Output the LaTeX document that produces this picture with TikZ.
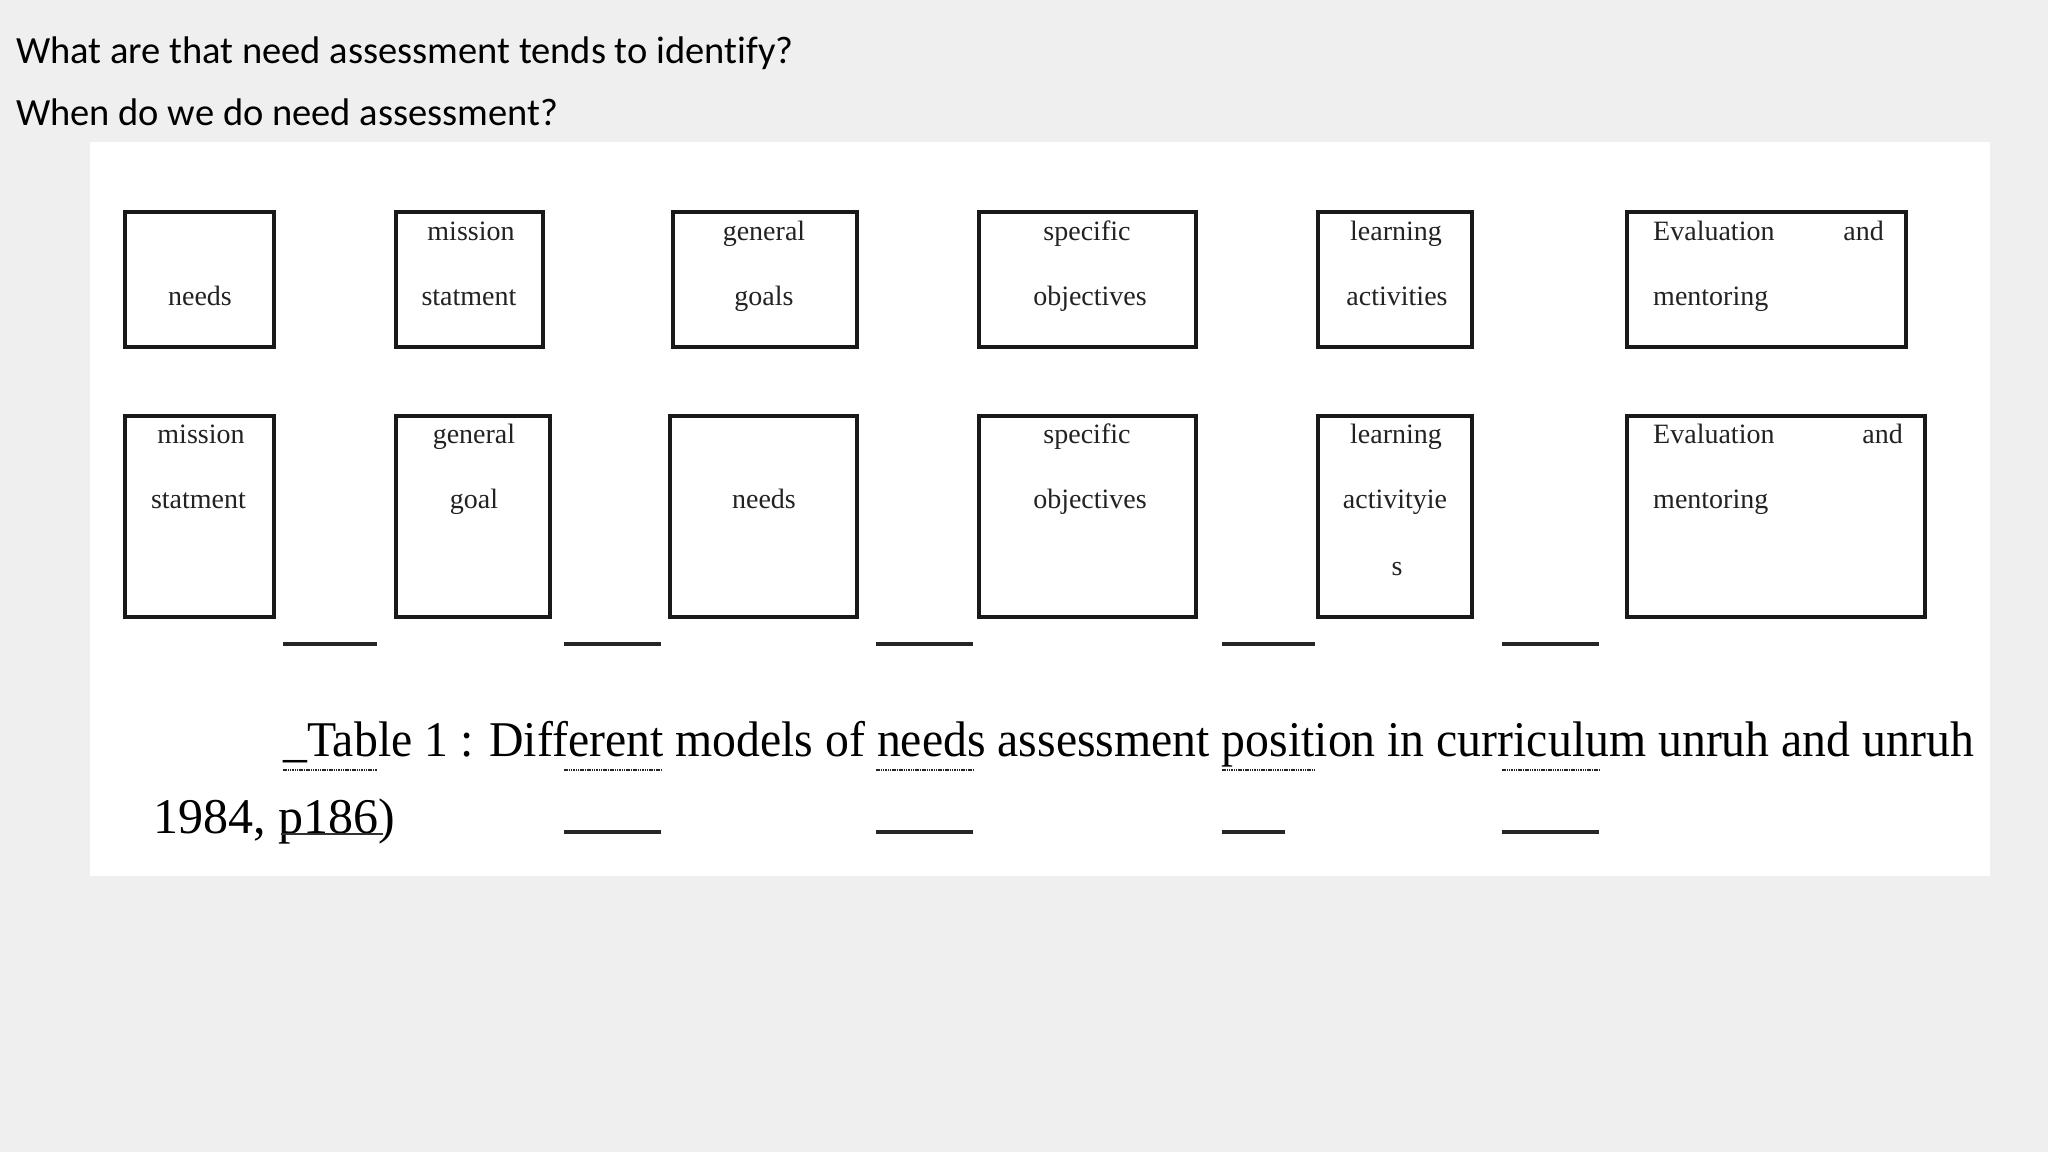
\documentclass[tikz,border=0pt]{standalone}
\usepackage{fontspec}
\setmainfont{Liberation Serif}
\newfontfamily\headfont[Ligatures=NoCommon]{Carlito}
\definecolor{pagebg}{HTML}{EFEFEF}
\definecolor{boxtext}{HTML}{222222}
\begin{document}
\begin{tikzpicture}[x=1pt,y=-1pt,
  bx/.style={draw=black!90, line width=3.2pt, rectangle, inner sep=0pt, fill=white},
  lbl/.style={anchor=base, inner sep=0pt, text=boxtext, font=\fontsize{28pt}{28pt}\selectfont},
  lbll/.style={anchor=base west, inner sep=0pt, text=boxtext, font=\fontsize{28pt}{28pt}\selectfont},
  lblr/.style={anchor=base east, inner sep=0pt, text=boxtext, font=\fontsize{28pt}{28pt}\selectfont},
  head/.style={anchor=base west, inner sep=0pt, font=\headfont\fontsize{38.5pt}{38.5pt}\selectfont},
  captext/.style={anchor=base west, inner sep=0pt, font=\fontsize{50pt}{50pt}\selectfont},
  blank/.style={line width=3.4pt, draw=black!85},
  dotline/.style={line width=2pt, draw=black!85, dash pattern=on 1.5pt off 0.8pt}
]
\useasboundingbox (0,0) rectangle (2048,1152);
\fill[pagebg] (0,0) rectangle (2048,1152);
\fill[white] (90,142) rectangle (1990,876);

% header questions
\node[head] (q1) at (16,63) {What are that need assessment tends to identify?};
\node[head] (q2) at (16,125) {When do we do need assessment?};

% row 1 boxes
\node[bx, minimum width=149pt, minimum height=135pt] (b1) at (199.5,279.5) {};
\node[bx, minimum width=147pt, minimum height=135pt] (b2) at (469.5,279.5) {};
\node[bx, minimum width=184pt, minimum height=135pt] (b3) at (765,279.5) {};
\node[bx, minimum width=217pt, minimum height=135pt] (b4) at (1087.5,279.5) {};
\node[bx, minimum width=154pt, minimum height=135pt] (b5) at (1395,279.5) {};
\node[bx, minimum width=279pt, minimum height=135pt] (b6) at (1766.5,279.5) {};

% row 2 boxes
\node[bx, minimum width=149pt, minimum height=201pt] (c1) at (199.5,516.5) {};
\node[bx, minimum width=154pt, minimum height=201pt] (c2) at (473,516.5) {};
\node[bx, minimum width=187pt, minimum height=201pt] (c3) at (763.5,516.5) {};
\node[bx, minimum width=217pt, minimum height=201pt] (c4) at (1087.5,516.5) {};
\node[bx, minimum width=154pt, minimum height=201pt] (c5) at (1395,516.5) {};
\node[bx, minimum width=298pt, minimum height=201pt] (c6) at (1776,516.5) {};

% row 1 labels
\node[lbl] (t11) at (200,305) {needs};
\node[lbl] (t21) at (471,240) {mission};
\node[lbl] (t22) at (469,305) {statment};
\node[lbl] (t31) at (764,240) {general};
\node[lbl] (t32) at (764,305) {goals};
\node[lbl] (t41) at (1087,240) {specific};
\node[lbl] (t42) at (1090,305) {objectives};
\node[lbl] (t51) at (1396,240) {learning};
\node[lbl] (t52) at (1397,305) {activities};
\node[lbll] (t61) at (1653,240) {Evaluation};
\node[lblr] (t62) at (1884,240) {and};
\node[lbll] (t63) at (1653,305) {mentoring};

% row 2 labels
\node[lbl] (u11) at (201,443) {mission};
\node[lbl] (u12) at (198.5,508) {statment};
\node[lbl] (u21) at (474,443) {general};
\node[lbl] (u22) at (474,508) {goal};
\node[lbl] (u31) at (764,508) {needs};
\node[lbl] (u41) at (1087,443) {specific};
\node[lbl] (u42) at (1090,508) {objectives};
\node[lbl] (u51) at (1396,443) {learning};
\node[lbl] (u52) at (1395,508) {activityie};
\node[lbl] (u53) at (1397,575) {s};
\node[lbll] (u61) at (1653,443) {Evaluation};
\node[lblr] (u62) at (1903,443) {and};
\node[lbll] (u63) at (1653,508) {mentoring};

% blank lines under the boxes
\foreach \a/\b in {283/377, 564/661, 876/973, 1222/1315, 1502/1599}
  \draw[blank] (\a,644) -- (\b,644);

% caption
\node[captext] (cap1) at (283,756) {\scalebox{0.955}[1]{\_Table 1 : Different models of needs assessment position in curriculum unruh and unruh}};
\node[captext] (cap2) at (153,833) {1984, p186)};
\foreach \a/\b in {283/377, 564/661, 876/973, 1222/1315, 1502/1599}
  \draw[dotline] (\a,770) -- (\b,770);
\draw[line width=1.5pt, draw=black!80] (281,834) -- (383,834);
\foreach \a/\b in {564/661, 876/973, 1222/1285, 1502/1599}
  \draw[blank] (\a,832) -- (\b,832);
\end{tikzpicture}
\end{document}
